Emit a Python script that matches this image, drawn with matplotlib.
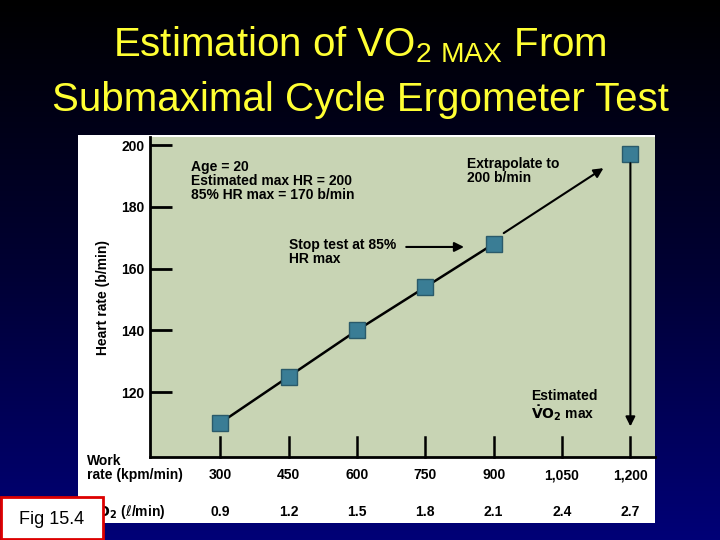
import matplotlib
matplotlib.use("Agg")
import matplotlib.pyplot as plt
import numpy as np
from matplotlib.patches import Rectangle
import matplotlib.transforms as mt

work_rate = [300, 450, 600, 750, 900, 1200]
heart_rate = [110, 125, 140, 154, 168, 197]
tick_work = [300, 450, 600, 750, 900, 1050, 1200]
tick_work_labels = ["300", "450", "600", "750", "900", "1,050", "1,200"]
vo2_labels = ["0.9", "1.2", "1.5", "1.8", "2.1", "2.4", "2.7"]
hr_ticks = [120, 140, 160, 180, 200]

plt.rcParams["font.family"] = "Liberation Sans"
fig = plt.figure(figsize=(7.2, 5.4), dpi=100)

bg = fig.add_axes([0, 0, 1, 1], zorder=-10)
grad = np.linspace(0, 1, 256).reshape(-1, 1)
from matplotlib.colors import LinearSegmentedColormap
cmap = LinearSegmentedColormap.from_list("g", ["#000000", "#000033", "#000077"])
bg.imshow(grad, aspect="auto", cmap=cmap, extent=[0, 1, 0, 1], origin="upper")
bg.set_axis_off()

fig.patches.append(Rectangle((78/720, 1-523/540), (655-78)/720, (523-135)/540,
                             transform=fig.transFigure, facecolor="white", edgecolor="none", zorder=-5))

fig.text(0.5, 1-45/540, r"Estimation of VO$_{\mathregular{2\ MAX}}$ From", color="#ffff33",
         fontsize=29, ha="center", va="center")
fig.text(0.5, 1-100/540, "Submaximal Cycle Ergometer Test", color="#ffff33",
         fontsize=29, ha="center", va="center")

ax = fig.add_axes([150/720, 1-457/540, (655-150)/720, (457-137)/540])
ax.set_facecolor("#c8d4b4")
ax.set_xlim(146, 1254)
ax.set_ylim(99, 202.6)
for s in ["top", "right"]:
    ax.spines[s].set_visible(False)
ax.spines["left"].set_linewidth(2)
ax.spines["bottom"].set_linewidth(2)

ax.plot(work_rate[:5], heart_rate[:5], color="black", lw=1.8, zorder=2)
ax.plot(work_rate, heart_rate, ls="none", marker="s", ms=11, mfc="#3a7d95",
        mec="#2a5a6a", mew=1, zorder=3)

ax.set_yticks(hr_ticks)
ax.set_yticklabels([str(t) for t in hr_ticks], fontsize=10, fontweight="bold")
ax.tick_params(axis="y", direction="in", length=16, width=2, pad=4)
ax.set_xticks([])
for x in tick_work:
    ax.plot([x, x], [99, 105.5], color="black", lw=1.8, clip_on=False)

ax.set_ylabel("Heart rate (b/min)", fontsize=10, fontweight="bold", labelpad=8)

tr = mt.blended_transform_factory(ax.transData, fig.transFigure)
for x, lab, v in zip(tick_work, tick_work_labels, vo2_labels):
    ax.text(x, 1-475/540, lab, transform=tr, ha="center", va="center", fontsize=10, fontweight="bold")
    ax.text(x, 1-512/540, v, transform=tr, ha="center", va="center", fontsize=10, fontweight="bold")
fig.text(87/720, 1-468/540, "Work\nrate (kpm/min)", ha="left", va="center", fontsize=10,
         fontweight="bold", linespacing=1.0)
fig.text(87/720, 1-512/540, r"$\mathbf{\dot{V}O_2}$ ($\ell$/min)", ha="left", va="center",
         fontsize=10, fontweight="bold")

kw = dict(fontsize=10, fontweight="bold", va="top", ha="left", linespacing=1.0)
ax.text(235, 195, "Age = 20\nEstimated max HR = 200\n85% HR max = 170 b/min", **kw)
ax.text(452, 170, "Stop test at 85%\nHR max", **kw)
ax.text(841, 196, "Extrapolate to\n200 b/min", **kw)
ax.text(983, 121, "Estimated\n" + r"$\mathbf{\dot{V}O_2}$ max", **kw)

ap = dict(arrowstyle="-|>", color="black", lw=1.5, mutation_scale=14)
ax.annotate("", xy=(841, 167), xytext=(702, 167), arrowprops=ap)
ax.annotate("", xy=(1146, 193), xytext=(917, 171), arrowprops=ap)
ax.annotate("", xy=(1200, 108), xytext=(1200, 195), arrowprops=ap)

fig.patches.append(Rectangle((1/720, 1/540), 102/720, 42/540, transform=fig.transFigure,
                             facecolor="white", edgecolor="#dd0000", lw=2, zorder=5))
fig.text(52/720, 1-520/540, "Fig 15.4", ha="center", va="center", fontsize=13, zorder=6)

fig.savefig("out.png", dpi=100)
